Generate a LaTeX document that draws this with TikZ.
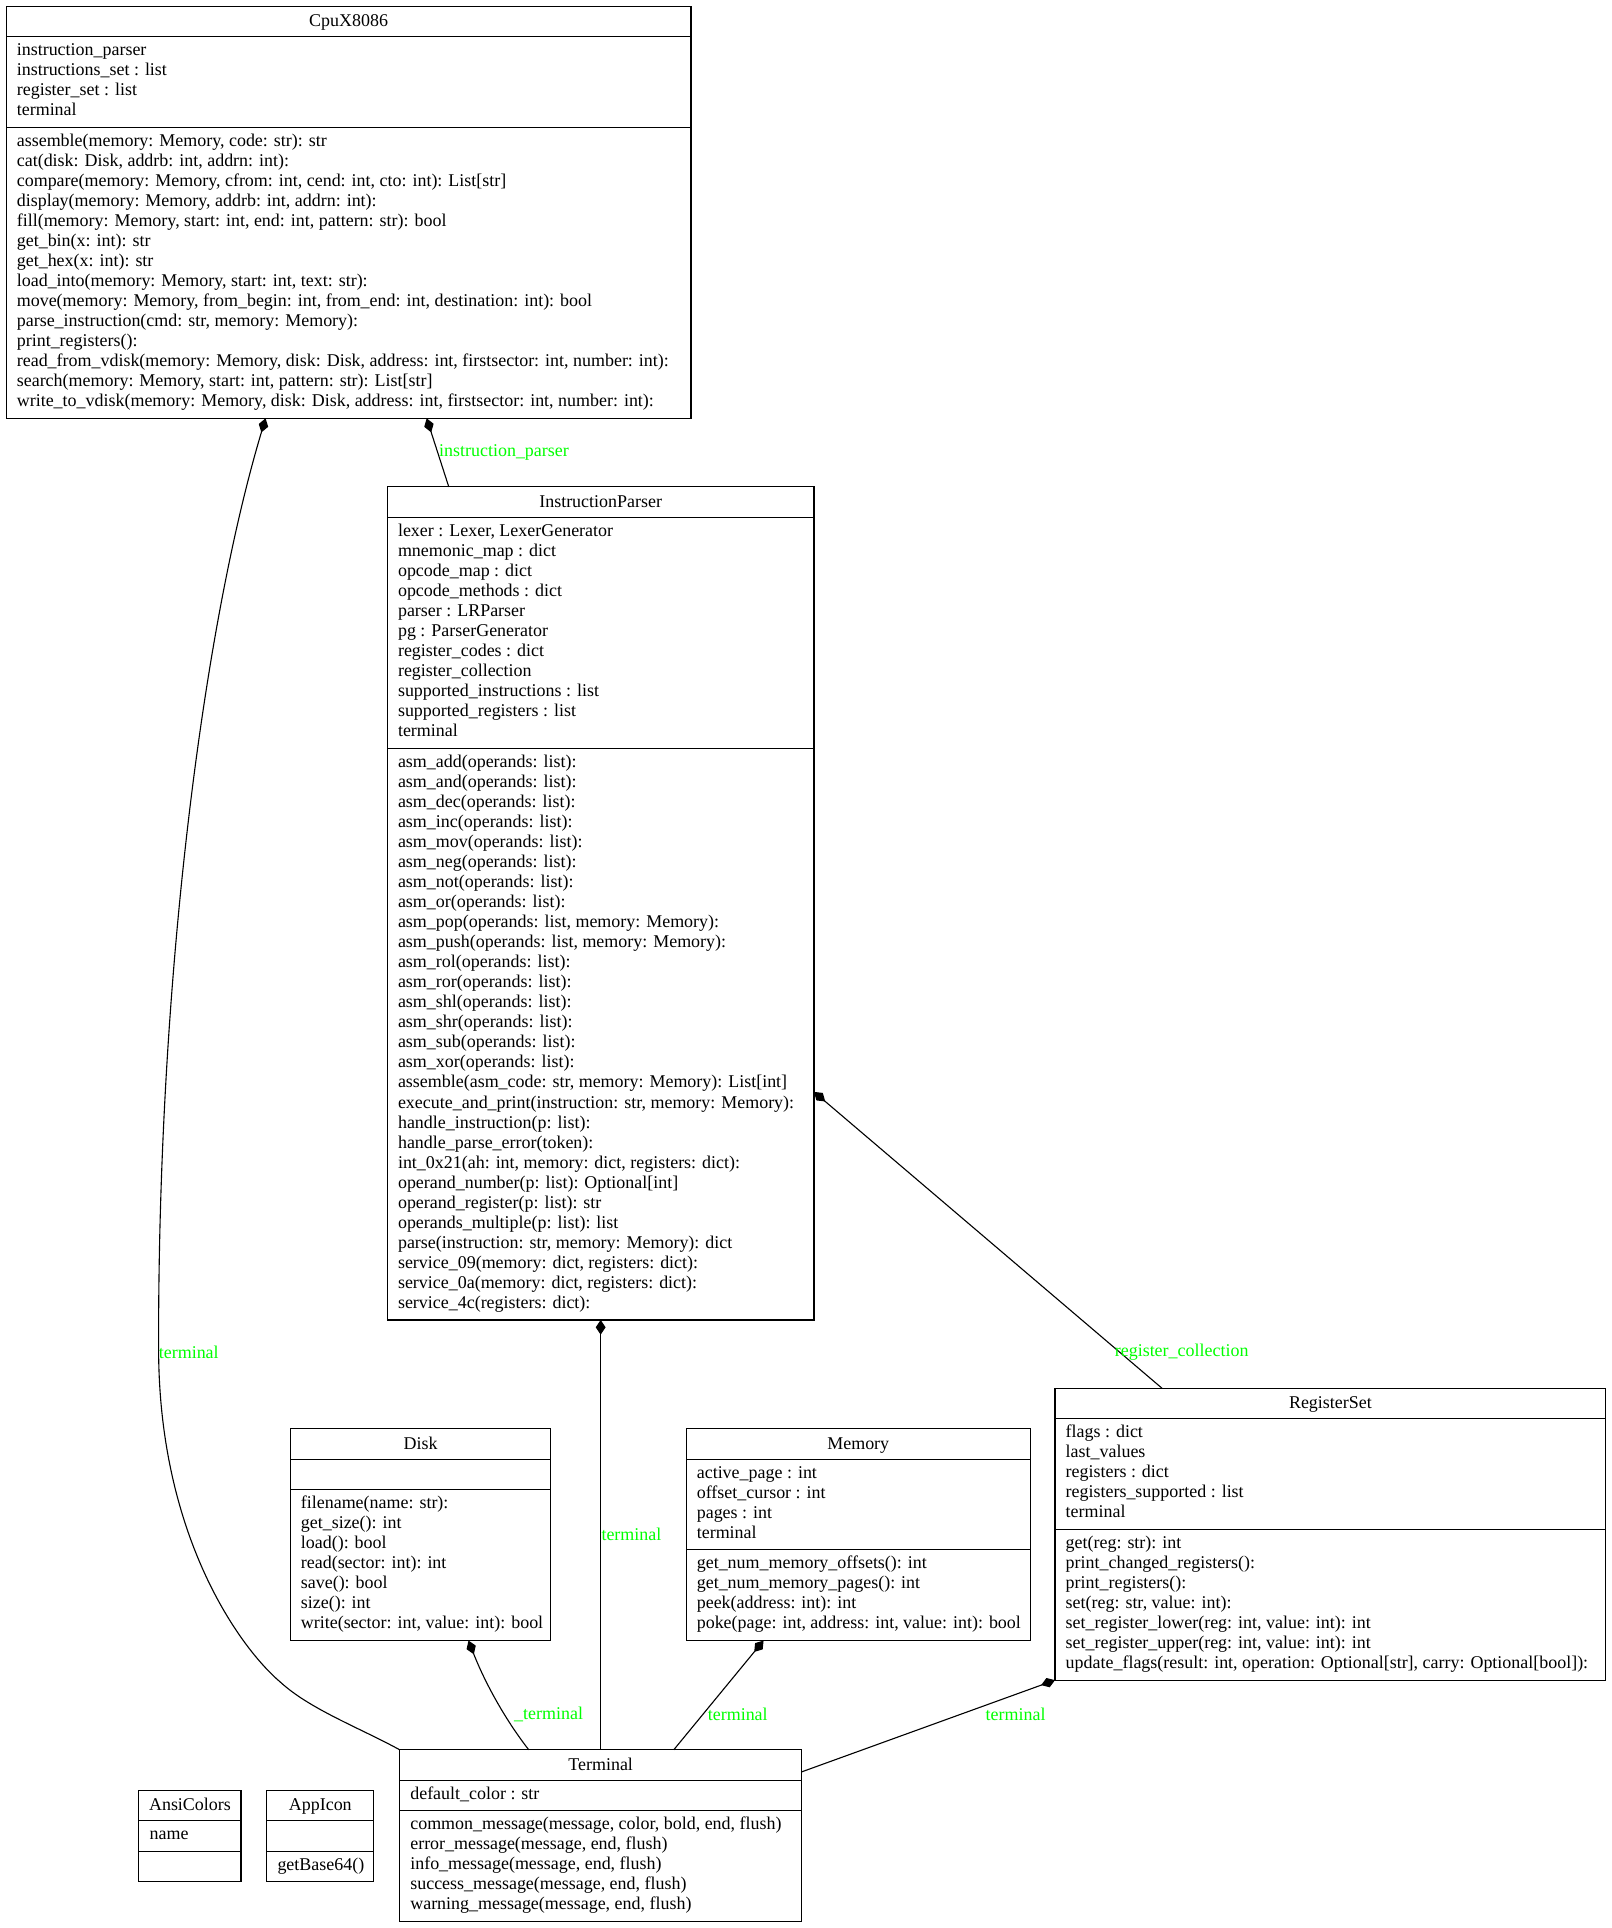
\documentclass[tikz,border=0pt]{standalone}
\usepackage{fontspec}
\setmainfont{Liberation Serif}
\usetikzlibrary{arrows.meta,calc}
\definecolor{lblgreen}{RGB}{0,255,0}
\tikzset{
 classbox/.style={draw, line width=0.9pt, anchor=north west, inner sep=0pt, outer sep=0pt},
 sepline/.style={line width=0.9pt},
 classtitle/.style={anchor=base, inner sep=0pt, font=\fontsize{14.6}{16.3}\selectfont},
 members/.style={anchor=north west, inner sep=0pt, align=left, font=\fontsize{14.6}{16.3}\selectfont},
 comp/.style={line width=0.9pt, {Diamond[length=12pt,width=8pt]}-},
 edgelabel/.style={text=lblgreen, inner sep=0pt, font=\fontsize{14.6}{16.3}\selectfont},
}
\newcommand\umlclass[9]{%
 \pgfmathsetmacro\hA{max(#6,1)*16.3+8.5}%
 \pgfmathsetmacro\hM{max(#8,1)*16.3+8.5}%
 \pgfmathsetmacro\hH{24.8+\hA+\hM}%
 \pgfmathsetmacro\yA{-#3-24.8}%
 \pgfmathsetmacro\yM{-#3-24.8-\hA}%
 \node[classbox, minimum width=#4pt, minimum height=\hH pt] (#1) at (#2,-#3) {};
 \node[classtitle] (#1-t) at ({#2+#4/2},{-#3-16.8}) {#5};
 \draw[sepline] (#2,\yA) -- ++(#4,0);
 \draw[sepline] (#2,\yM) -- ++(#4,0);
 \node[members] (#1-a) at ({#2+8.5},{\yA-3.8}) {\strut #7};
 \node[members] (#1-m) at ({#2+8.5},{\yM-3.8}) {\strut #9};
}
\begin{document}
\begin{tikzpicture}[x=1pt,y=1pt]
\useasboundingbox (0,0) rectangle (1311,-1568);
\fill[white] (0,0) rectangle (1311,-1568);

\umlclass{cpu}{5}{5}{557}{CpuX8086}{4}{instruction\_parser\\instructions\_set : list\\register\_set : list\\terminal}{14}{assemble(memory: Memory, code: str): str\\
cat(disk: Disk, addrb: int, addrn: int):\\
compare(memory: Memory, cfrom: int, cend: int, cto: int): List[str]\\
display(memory: Memory, addrb: int, addrn: int):\\
fill(memory: Memory, start: int, end: int, pattern: str): bool\\
get\_bin(x: int): str\\
get\_hex(x: int): str\\
load\_into(memory: Memory, start: int, text: str):\\
move(memory: Memory, from\_begin: int, from\_end: int, destination: int): bool\\
parse\_instruction(cmd: str, memory: Memory):\\
print\_registers():\\
read\_from\_vdisk(memory: Memory, disk: Disk, address: int, firstsector: int, number: int):\\
search(memory: Memory, start: int, pattern: str): List[str]\\
write\_to\_vdisk(memory: Memory, disk: Disk, address: int, firstsector: int, number: int):}

\umlclass{ip}{315}{396}{347}{InstructionParser}{11}{lexer : Lexer, LexerGenerator\\
mnemonic\_map : dict\\
opcode\_map : dict\\
opcode\_methods : dict\\
parser : LRParser\\
pg : ParserGenerator\\
register\_codes : dict\\
register\_collection\\
supported\_instructions : list\\
supported\_registers : list\\
terminal}{28}{asm\_add(operands: list):\\
asm\_and(operands: list):\\
asm\_dec(operands: list):\\
asm\_inc(operands: list):\\
asm\_mov(operands: list):\\
asm\_neg(operands: list):\\
asm\_not(operands: list):\\
asm\_or(operands: list):\\
asm\_pop(operands: list, memory: Memory):\\
asm\_push(operands: list, memory: Memory):\\
asm\_rol(operands: list):\\
asm\_ror(operands: list):\\
asm\_shl(operands: list):\\
asm\_shr(operands: list):\\
asm\_sub(operands: list):\\
asm\_xor(operands: list):\\
assemble(asm\_code: str, memory: Memory): List[int]\\
execute\_and\_print(instruction: str, memory: Memory):\\
handle\_instruction(p: list):\\
handle\_parse\_error(token):\\
int\_0x21(ah: int, memory: dict, registers: dict):\\
operand\_number(p: list): Optional[int]\\
operand\_register(p: list): str\\
operands\_multiple(p: list): list\\
parse(instruction: str, memory: Memory): dict\\
service\_09(memory: dict, registers: dict):\\
service\_0a(memory: dict, registers: dict):\\
service\_4c(registers: dict):}

\umlclass{disk}{236}{1162}{212}{Disk}{0}{}{7}{filename(name: str):\\
get\_size(): int\\
load(): bool\\
read(sector: int): int\\
save(): bool\\
size(): int\\
write(sector: int, value: int): bool}

\umlclass{mem}{558}{1162}{280}{Memory}{4}{active\_page : int\\
offset\_cursor : int\\
pages : int\\
terminal}{4}{get\_num\_memory\_offsets(): int\\
get\_num\_memory\_pages(): int\\
peek(address: int): int\\
poke(page: int, address: int, value: int): bool}

\umlclass{rs}{858}{1129}{448}{RegisterSet}{5}{flags : dict\\
last\_values\\
registers : dict\\
registers\_supported : list\\
terminal}{7}{get(reg: str): int\\
print\_changed\_registers():\\
print\_registers():\\
set(reg: str, value: int):\\
set\_register\_lower(reg: int, value: int): int\\
set\_register\_upper(reg: int, value: int): int\\
update\_flags(result: int, operation: Optional[str], carry: Optional[bool]):}

\umlclass{term}{325}{1423}{327}{Terminal}{1}{default\_color : str}{5}{common\_message(message, color, bold, end, flush)\\
error\_message(message, end, flush)\\
info\_message(message, end, flush)\\
success\_message(message, end, flush)\\
warning\_message(message, end, flush)}

\umlclass{ansi}{113}{1456}{83}{AnsiColors}{1}{name}{0}{}

\umlclass{app}{217}{1456}{87}{AppIcon}{0}{}{1}{getBase64()}

% connectors
\draw[comp] ($(cpu.south west)+(211,0)$) .. controls (165,-510) and (128,-800) .. (129,-1100)
  .. controls (130,-1250) and (195,-1340) .. (228,-1368)
  .. controls (252,-1390) and (292,-1405) .. (term.north west);
\draw[comp] ($(cpu.south west)+(342,0)$) -- ($(ip.north west)+(50,0)$);
\draw[comp] (ip.south) -- (term.north);
\draw[comp] ($(ip.north east)+(0,-492)$) -- ($(rs.north west)+(87,0)$);
\draw[comp] ($(disk.south west)+(145,0)$) .. controls (395,-1370) and (412,-1400) .. ($(term.north west)+(105,0)$);
\draw[comp] ($(mem.south west)+(63,0)$) -- ($(term.north west)+(223,0)$);
\draw[comp] (rs.south west) -- ($(term.north east)+(0,-18)$);

% labels
\node[edgelabel, anchor=west] (lb-ip) at (357,-368) {instruction\_parser};
\node[edgelabel, anchor=west] (lb-cpu) at (129,-1100) {terminal};
\node[edgelabel, anchor=west] (lb-ipt) at (489,-1248) {terminal};
\node[edgelabel] (lb-rc) at (961,-1100) {register\_collection};
\node[edgelabel, anchor=west] (lb-disk) at (418,-1394) {\_terminal};
\node[edgelabel] (lb-mem) at (600,-1394) {terminal};
\node[edgelabel] (lb-rs) at (826,-1394) {terminal};
\end{tikzpicture}
\end{document}
